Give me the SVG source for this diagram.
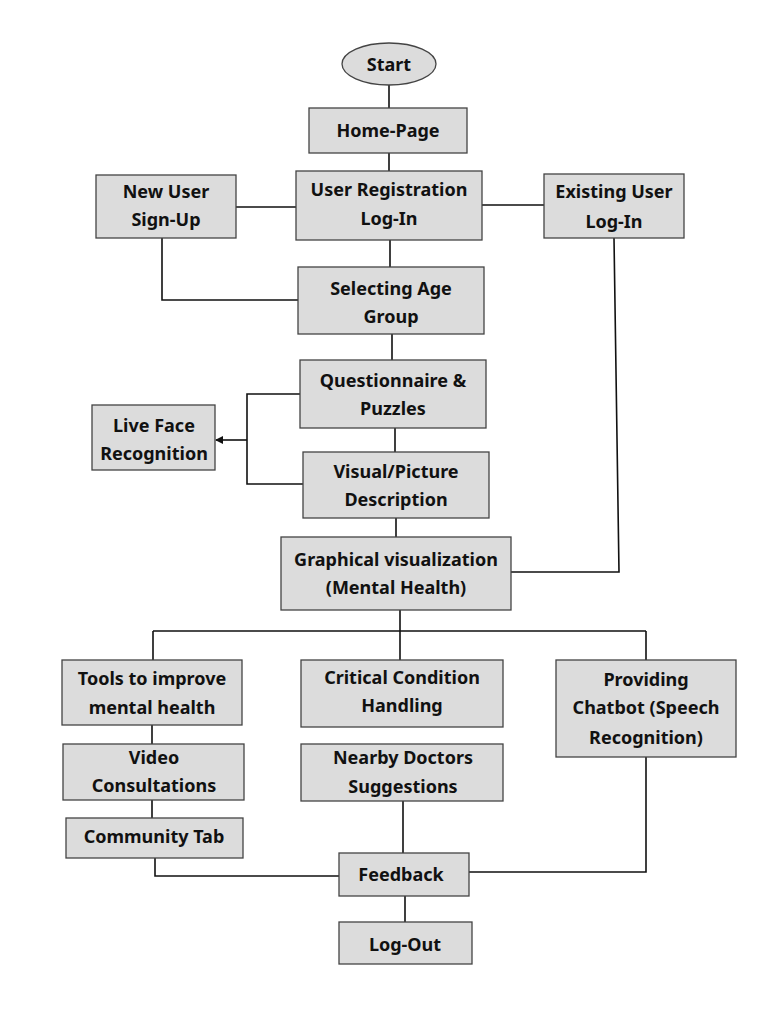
<svg xmlns="http://www.w3.org/2000/svg" width="768" height="1024" viewBox="0 0 768 1024">
<style>
.b{fill:#dcdcdc;stroke:#444;stroke-width:1.3}
.t{font-family:"Noto Sans","Liberation Sans",sans-serif;font-weight:bold;font-size:18px;fill:#111;text-anchor:middle}
.c{fill:none;stroke:#111;stroke-width:1.6}
</style>
<defs><marker id="a" markerWidth="8" markerHeight="8" refX="7" refY="4" orient="auto" markerUnits="userSpaceOnUse"><path d="M0,0L8,4L0,8z" fill="#111"/></marker></defs>
<rect width="768" height="1024" fill="#fff"/>
<g id="connectors">
<path class="c" d="M389,85V108M389,153V171M236,207H296M482,205H544M390,240V267M162,238V300H298M392,334V360M395,428V452M300,394H247V484H303M396,518V537M614,238L619,572H511M400,610V631M153,631H646M153,631V660M400,631V660M646,631V660M152,725V744M152,800V818M155,858V876H339M403,801V853M646,757V872H469M405,896V922"/>
<path class="c" d="M247,440H216" marker-end="url(#a)"/>
</g>
<g id="start"><ellipse class="b" cx="389" cy="64" rx="47" ry="21"/><text class="t" x="389" y="71">Start</text></g>
<g id="home"><rect class="b" x="309" y="108" width="158" height="45"/><text class="t" x="388" y="137">Home-Page</text></g>
<g id="newuser"><rect class="b" x="96" y="175" width="140" height="63"/><text class="t" x="166" y="198">New User</text><text class="t" x="166" y="226">Sign-Up</text></g>
<g id="userreg"><rect class="b" x="296" y="171" width="186" height="69"/><text class="t" x="389" y="196">User Registration</text><text class="t" x="389" y="225">Log-In</text></g>
<g id="existing"><rect class="b" x="544" y="174" width="140" height="64"/><text class="t" x="614" y="198">Existing User</text><text class="t" x="614" y="228">Log-In</text></g>
<g id="age"><rect class="b" x="298" y="267" width="186" height="67"/><text class="t" x="391" y="295">Selecting Age</text><text class="t" x="391" y="323">Group</text></g>
<g id="quest"><rect class="b" x="300" y="360" width="186" height="68"/><text class="t" x="393" y="387">Questionnaire &amp;</text><text class="t" x="393" y="415">Puzzles</text></g>
<g id="face"><rect class="b" x="92" y="405" width="123" height="65"/><text class="t" x="154" y="432">Live Face</text><text class="t" x="154" y="460">Recognition</text></g>
<g id="visual"><rect class="b" x="303" y="452" width="186" height="66"/><text class="t" x="396" y="478">Visual/Picture</text><text class="t" x="396" y="506">Description</text></g>
<g id="graph"><rect class="b" x="281" y="537" width="230" height="73"/><text class="t" x="396" y="566">Graphical visualization</text><text class="t" x="396" y="594">(Mental Health)</text></g>
<g id="tools"><rect class="b" x="62" y="660" width="180" height="65"/><text class="t" x="152" y="685">Tools to improve</text><text class="t" x="152" y="714">mental health</text></g>
<g id="critical"><rect class="b" x="301" y="660" width="202" height="67"/><text class="t" x="402" y="684">Critical Condition</text><text class="t" x="402" y="712">Handling</text></g>
<g id="chatbot"><rect class="b" x="556" y="660" width="180" height="97"/><text class="t" x="646" y="686">Providing</text><text class="t" x="646" y="714">Chatbot (Speech</text><text class="t" x="646" y="744">Recognition)</text></g>
<g id="video"><rect class="b" x="63" y="744" width="181" height="56"/><text class="t" x="154" y="764">Video</text><text class="t" x="154" y="792">Consultations</text></g>
<g id="nearby"><rect class="b" x="301" y="744" width="202" height="57"/><text class="t" x="403" y="764">Nearby Doctors</text><text class="t" x="403" y="793">Suggestions</text></g>
<g id="community"><rect class="b" x="66" y="818" width="177" height="40"/><text class="t" x="154" y="843">Community Tab</text></g>
<g id="feedback"><rect class="b" x="339" y="853" width="130" height="43"/><text class="t" x="401" y="881">Feedback</text></g>
<g id="logout"><rect class="b" x="339" y="922" width="133" height="42"/><text class="t" x="405" y="951">Log-Out</text></g>
</svg>
